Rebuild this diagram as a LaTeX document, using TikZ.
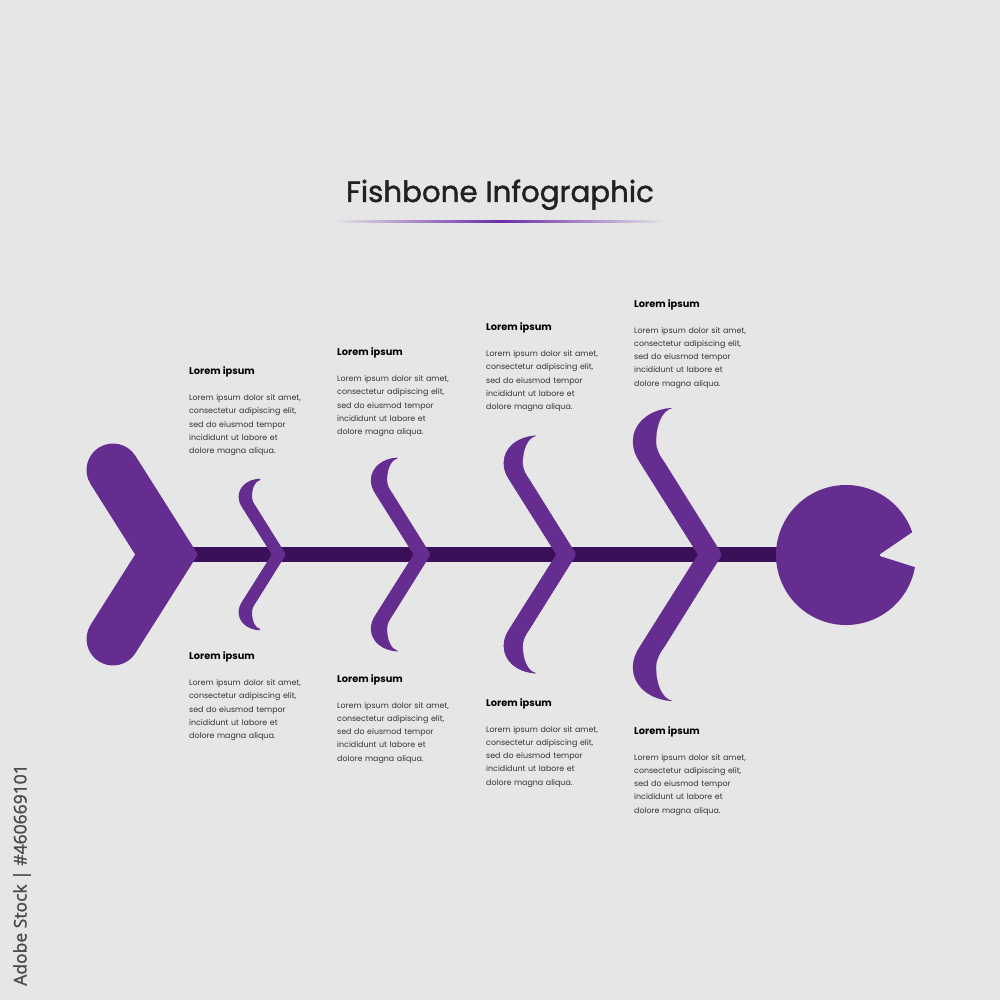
\documentclass[tikz,border=0pt]{standalone}
\usepackage{fontspec}
\setmainfont{Poppins}
\newfontfamily\titlefont{Poppins}[FakeBold=1.3]
\newfontfamily\wmfont{Open Sans}[FakeBold=1.6]
\definecolor{bg}{HTML}{E6E6E6}
\definecolor{bonec}{HTML}{662D91}
\definecolor{spinec}{HTML}{3A1159}
\definecolor{txtc}{HTML}{333333}
\definecolor{linec}{HTML}{6A2CA8}
\tikzset{
  bonepic/.pic={
    \filldraw[bonec, line join=round] (-50,-146.5) .. controls (-73,-145) and (-89,-131) .. (-89,-113)
      .. controls (-89,-105) and (-86.5,-99) .. (-82,-92)
      -- (-27,-4.8) .. controls (-23.5,0) .. (-27,4.8) -- (-82,92)
      .. controls (-86.5,99) and (-89,105) .. (-89,113)
      .. controls (-89,131) and (-73,145) .. (-50,146.5)
      .. controls (-60,144) and (-66,130) .. (-66,113)
      .. controls (-66,105) and (-62.5,99) .. (-57.5,92)
      -- (-4.5,7.2) .. controls (0.5,0) .. (-4.5,-7.2) -- (-57.5,-92)
      .. controls (-62.5,-99) and (-66,-105) .. (-66,-113)
      .. controls (-66,-130) and (-60,-144) .. cycle;
  },
  lbl/.style={anchor=base west, inner sep=0pt, font=\fontsize{9.8}{11}\selectfont\bfseries, text=black},
  bodytxt/.style={anchor=base west, inner sep=0pt, text width=140pt, align=left,
    font=\fontsize{7.9}{13.33}\selectfont, text=txtc},
}
\newcommand{\bodytext}{Lorem ipsum dolor sit amet,\\consectetur adipiscing elit,\\sed do eiusmod tempor\\incididunt ut labore et\\dolore magna aliqua.}
\begin{document}
\begin{tikzpicture}[x=1pt,y=-1pt]
  \fill[bg] (0,0) rectangle (1000,1000);
  \useasboundingbox (0,0) rectangle (1000,1000);

  % title
  \node[anchor=base, inner sep=0pt, font=\titlefont\fontsize{29.3}{32}\selectfont, text=black!87] (title) at (500,202) {Fishbone Infographic};
  \coordinate (ulL) at (333,220.7);
  \coordinate (ulR) at (667,222.3);
  \shade[left color=bg, right color=bg, middle color=linec] (ulL) rectangle (ulR);

  % spine
  \coordinate (spS) at (190,554.5);
  \coordinate (spE) at (800,554.5);
  \draw[spinec, line width=15pt] (spS) -- (spE);

  % tail
  \draw[bonec, line width=53pt, line cap=round, line join=miter] (113,470) -- (166.5,554.5) -- (113,639);

  % bones
  \pic[scale=0.512, line width=1.6pt] at (285,554.5) {bonepic};
  \pic[scale=0.658, line width=1.1pt] at (430,554.5) {bonepic};
  \pic[scale=0.81, line width=0.6pt] at (576,554.5) {bonepic};
  \pic[scale=1.0, line width=0.2pt] at (722,554.5) {bonepic};

  % head
  \fill[bonec] (846,555) ++(-19:70) arc[start angle=-19, end angle=-350, radius=70]
    [rounded corners=3pt] -- (878,555.5) [sharp corners] -- cycle;

  % upper texts
  \node[lbl] (t1) at (189,374.5) {Lorem ipsum};
  \node[bodytxt] (b1) at (189,400.5) {\bodytext};
  \node[lbl] (t2) at (337,355.5) {Lorem ipsum};
  \node[bodytxt] (b2) at (337,381.5) {\bodytext};
  \node[lbl] (t3) at (486,330.5) {Lorem ipsum};
  \node[bodytxt] (b3) at (486,356.5) {\bodytext};
  \node[lbl] (t4) at (634,307) {Lorem ipsum};
  \node[bodytxt] (b4) at (634,333) {\bodytext};

  % lower texts
  \node[lbl] (t5) at (189,659.5) {Lorem ipsum};
  \node[bodytxt] (b5) at (189,685.5) {\bodytext};
  \node[lbl] (t6) at (337,682) {Lorem ipsum};
  \node[bodytxt] (b6) at (337,708) {\bodytext};
  \node[lbl] (t7) at (486,706) {Lorem ipsum};
  \node[bodytxt] (b7) at (486,732) {\bodytext};
  \node[lbl] (t8) at (634,734) {Lorem ipsum};
  \node[bodytxt] (b8) at (634,760) {\bodytext};

  % stock id
  \node[rotate=90, inner sep=0pt, font=\wmfont\fontsize{17.5}{20}\selectfont, text=black!70] (wm) at (22,875) {Adobe Stock | \#460669101};
\end{tikzpicture}
\end{document}
